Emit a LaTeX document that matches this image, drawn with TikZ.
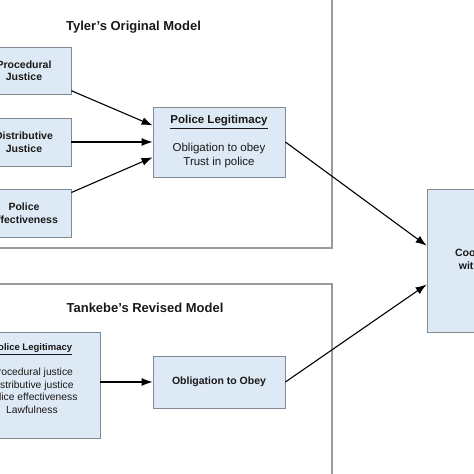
\documentclass[tikz,border=0pt]{standalone}
\usepackage{fontspec}
\setmainfont{Liberation Sans}
\usetikzlibrary{arrows.meta,positioning}
\definecolor{boxBlue}{HTML}{DDEAF5}
\definecolor{boxEdge}{HTML}{808A94}
\definecolor{frameGray}{HTML}{9A9A9A}
\tikzset{bx/.style={draw=boxEdge, fill=boxBlue, line width=0.8pt, inner sep=0pt,
  align=center, text=black!90, font=\fontsize{10.5}{12.5}\selectfont\bfseries}}
\tikzset{ttl/.style={font=\fontsize{13}{15}\selectfont\bfseries, text=black!90}}
\tikzset{ar/.style={draw, line width=1.1pt, -{Latex[length=11pt,width=8pt]}}}
\tikzset{fr/.style={draw=frameGray, line width=1.4pt}}

\begin{document}
\begin{tikzpicture}[x=1pt,y=-1pt]
        \useasboundingbox (0,0) rectangle (474,474);
        \clip (0,0) rectangle (474,474);
        %% frames
        \draw[fr] (-20,-20) rectangle (332,248);
        \draw[fr] (-20,284) rectangle (332,500);
        %% Tyler's original model
        \node (tyler) at (133.5,27) [ttl] {Tyler's Original Model};
        \node (proc) at (24,70.5) [bx, minimum width=94pt, minimum height=47pt] {Procedural\\Justice};
        \node (dist) at (24,142) [bx, minimum width=94pt, minimum height=48pt] {Distributive\\Justice};
        \node (eff) at (24,213) [bx, minimum width=94pt, minimum height=48pt] {Police\\Effectiveness};
        \node (legit) at (219,142) [bx, minimum width=132pt, minimum height=70pt,
            font=\fontsize{11.5}{14}\selectfont]
            {\textbf{\underline{Police Legitimacy}}\\[14pt]Obligation to obey\\Trust in police};
        %% Tankebe's revised model
        \node (tankebe) at (145,308) [ttl] {Tankebe's Revised Model};
        \node (legit2) at (32,385) [bx, minimum width=136pt, minimum height=106pt] {};
        \node (legit2txt) at (32,378.5) [align=center, text=black!90,
            font=\fontsize{10.3}{12.4}\selectfont]
            {{\fontsize{9.5}{11}\selectfont\bfseries\underline{Police Legitimacy}}\\[13pt]Procedural justice\\Distributive justice\\Police effectiveness\\Lawfulness};
        \node (oblig) at (219,382) [bx, minimum width=132pt, minimum height=52pt] {Obligation to Obey};
        %% outcome
        \node (coop) at (486,260.5) [bx, minimum width=118pt, minimum height=143pt] {Cooperation\\with police};
        \draw [ar] (proc) to (legit.166);
        \draw [ar] (dist) to (legit.west);
        \draw [ar] (eff) to (legit.193);
        \draw [ar] (legit.east) to (coop.166);
        \draw [ar] (legit2.east |- oblig.west) to (oblig.west);
        \draw [ar] (oblig.east) to (coop.202);
\end{tikzpicture}
\end{document}
